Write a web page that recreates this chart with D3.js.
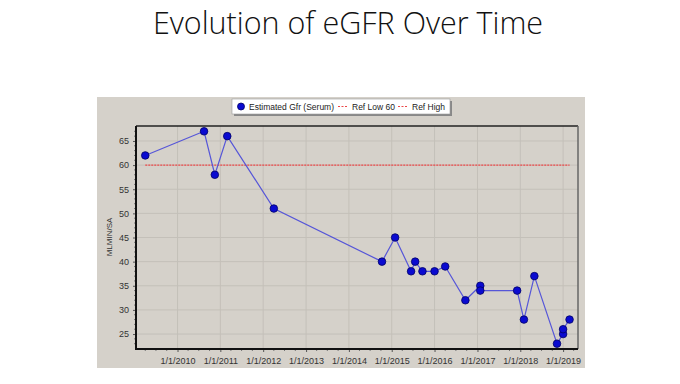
<!DOCTYPE html>
<html>
<head>
<meta charset="utf-8">
<script src="https://cdn.jsdelivr.net/npm/d3@7"></script>
<style>
  body { margin: 0; background: #fff; }
  svg { display: block; }
</style>
</head>
<body>
<script>
// eGFR readings
var dates = ["2009-04-01", "2010-08-15", "2010-11-15", "2011-03-01", "2012-04-01",
             "2014-10-10", "2015-01-30", "2015-06-15", "2015-07-20", "2015-09-20",
             "2016-01-01", "2016-04-01", "2016-09-20", "2017-01-25", "2017-01-25",
             "2017-12-05", "2018-02-01", "2018-05-01", "2018-11-10", "2019-01-01",
             "2019-01-01", "2019-02-25"];
var gfr = [62, 67, 58, 66, 51, 40, 45, 38, 40, 38, 38, 39, 32, 35, 34, 34, 28, 37, 23, 25, 26, 28];
var refLow = 60;
var yTicks = [25, 30, 35, 40, 45, 50, 55, 60, 65];
var xTickYears = [2010, 2011, 2012, 2013, 2014, 2015, 2016, 2017, 2018, 2019];

var parse = d3.timeParse("%Y-%m-%d");
var data = dates.map(function(d, i){ return {date: parse(d), v: gfr[i]}; });

var W = 680, H = 384;
var svg = d3.select("body").append("svg").attr("width", W).attr("height", H);

// title
svg.append("text")
  .attr("x", 348).attr("y", 34)
  .attr("text-anchor", "middle")
  .style("font-family", "'Open Sans', 'Noto Sans', sans-serif")
  .style("font-weight", 300)
  .style("font-size", "30.5px")
  .style("fill", "#111")
  .text("Evolution of eGFR Over Time");

// gray panel
svg.append("rect")
  .attr("x", 97).attr("y", 97).attr("width", 488).attr("height", 271)
  .style("fill", "#d5d1ca");

var plot = {left: 136, top: 126, right: 578, bottom: 349};

var x = d3.scaleTime()
  .domain([new Date(2009, 0, 12), new Date(2019, 4, 8)])
  .range([plot.left, plot.right]);
var y = d3.scaleLinear()
  .domain([21.9, 68.1])
  .range([plot.bottom, plot.top]);

var g = svg.append("g");

// grid
g.selectAll(".hgrid").data(yTicks).enter().append("line")
  .attr("x1", plot.left).attr("x2", plot.right)
  .attr("y1", function(d){ return y(d); }).attr("y2", function(d){ return y(d); })
  .style("stroke", "#c4c0b9").style("stroke-width", 1);
g.selectAll(".vgrid").data(xTickYears).enter().append("line")
  .attr("y1", plot.top).attr("y2", plot.bottom)
  .attr("x1", function(d){ return x(new Date(d, 0, 1)); })
  .attr("x2", function(d){ return x(new Date(d, 0, 1)); })
  .style("stroke", "#c4c0b9").style("stroke-width", 1);

// y axis
var yAxis = d3.axisLeft(y).tickValues(yTicks).tickSize(3).tickPadding(4);
var ya = svg.append("g").attr("transform", "translate(" + plot.left + ",0)").call(yAxis);
ya.select(".domain").remove();
ya.selectAll("text")
  .style("font-family", "Arial, 'Liberation Sans', sans-serif")
  .style("font-size", "9px").style("fill", "#333");
ya.selectAll("line").style("stroke", "#555");
// minor y ticks
var yMinor = d3.range(23, 68, 1).filter(function(v){ return v % 5 !== 0; });
svg.selectAll(".yminor").data(yMinor).enter().append("line")
  .attr("x1", plot.left - 2).attr("x2", plot.left)
  .attr("y1", function(d){ return y(d); }).attr("y2", function(d){ return y(d); })
  .style("stroke", "#777");

// x axis
var xAxis = d3.axisBottom(x)
  .tickValues(xTickYears.map(function(d){ return new Date(d, 0, 1); }))
  .tickFormat(d3.timeFormat("%-m/%-d/%Y"))
  .tickSize(3).tickPadding(6);
var xa = svg.append("g").attr("transform", "translate(0," + plot.bottom + ")").call(xAxis);
xa.select(".domain").remove();
xa.selectAll("text")
  .style("font-family", "Arial, 'Liberation Sans', sans-serif")
  .style("font-size", "9px").style("fill", "#333");
xa.selectAll("line").style("stroke", "#555");
// minor x ticks (quarters)
var xMinor = d3.timeMonth.every(3).range(x.domain()[0], x.domain()[1])
  .filter(function(d){ return d.getMonth() !== 0; });
svg.selectAll(".xminor").data(xMinor).enter().append("line")
  .attr("x1", function(d){ return x(d); }).attr("x2", function(d){ return x(d); })
  .attr("y1", plot.bottom).attr("y2", plot.bottom + 2)
  .style("stroke", "#777");

// frame
svg.append("line").attr("x1", plot.left).attr("x2", plot.right)
  .attr("y1", plot.top).attr("y2", plot.top).style("stroke", "#222").style("stroke-width", 1.5);
svg.append("line").attr("x1", plot.right).attr("x2", plot.right)
  .attr("y1", plot.top).attr("y2", plot.bottom).style("stroke", "#666").style("stroke-width", 1.5);
svg.append("line").attr("x1", plot.left).attr("x2", plot.left)
  .attr("y1", plot.top).attr("y2", plot.bottom + 1).style("stroke", "#111").style("stroke-width", 2);
svg.append("line").attr("x1", plot.left - 1).attr("x2", plot.right)
  .attr("y1", plot.bottom).attr("y2", plot.bottom).style("stroke", "#111").style("stroke-width", 2);

// y label
svg.append("text")
  .attr("transform", "translate(112,237) rotate(-90)")
  .attr("text-anchor", "middle")
  .style("font-family", "Arial, 'Liberation Sans', sans-serif")
  .style("font-size", "8px").style("fill", "#333")
  .text("MLMIN/SA");

// reference line
svg.append("line")
  .attr("x1", x(data[0].date)).attr("x2", x(data[data.length - 1].date))
  .attr("y1", y(refLow)).attr("y2", y(refLow))
  .style("stroke", "#ec4848").style("stroke-width", 1.3).style("stroke-dasharray", "2,1");

// series
var line = d3.line().x(function(d){ return x(d.date); }).y(function(d){ return y(d.v); });
svg.append("path").datum(data).attr("d", line)
  .style("fill", "none").style("stroke", "#5656d8").style("stroke-width", 1.2);
svg.selectAll(".pt").data(data).enter().append("circle")
  .attr("cx", function(d){ return x(d.date); })
  .attr("cy", function(d){ return y(d.v); })
  .attr("r", 3.8)
  .style("fill", "#0a0ad0").style("stroke", "#000066").style("stroke-width", 0.8);

// legend
var lg = svg.append("g");
lg.append("rect").attr("x", 234).attr("y", 101).attr("width", 218).attr("height", 15)
  .style("fill", "#888");
lg.append("rect").attr("x", 232).attr("y", 99).attr("width", 218).attr("height", 15)
  .style("fill", "#fff").style("stroke", "#999").style("stroke-width", 0.6);
lg.append("circle").attr("cx", 241).attr("cy", 106.5).attr("r", 3.5)
  .style("fill", "#0a0ad0").style("stroke", "#000066").style("stroke-width", 0.8);
var legText = [["Estimated Gfr (Serum)", 249], ["Ref Low 60", 352], ["Ref High", 412]];
lg.selectAll(".lt").data(legText).enter().append("text")
  .attr("x", function(d){ return d[1]; }).attr("y", 109.5)
  .style("font-family", "Arial, 'Liberation Sans', sans-serif")
  .style("font-size", "8.5px").style("fill", "#222")
  .text(function(d){ return d[0]; });
lg.selectAll(".ld").data([338, 398]).enter().append("line")
  .attr("x1", function(d){ return d; }).attr("x2", function(d){ return d + 10; })
  .attr("y1", 106.5).attr("y2", 106.5)
  .style("stroke", "#ec4848").style("stroke-width", 1).style("stroke-dasharray", "2,1.5");
</script>
</body>
</html>
